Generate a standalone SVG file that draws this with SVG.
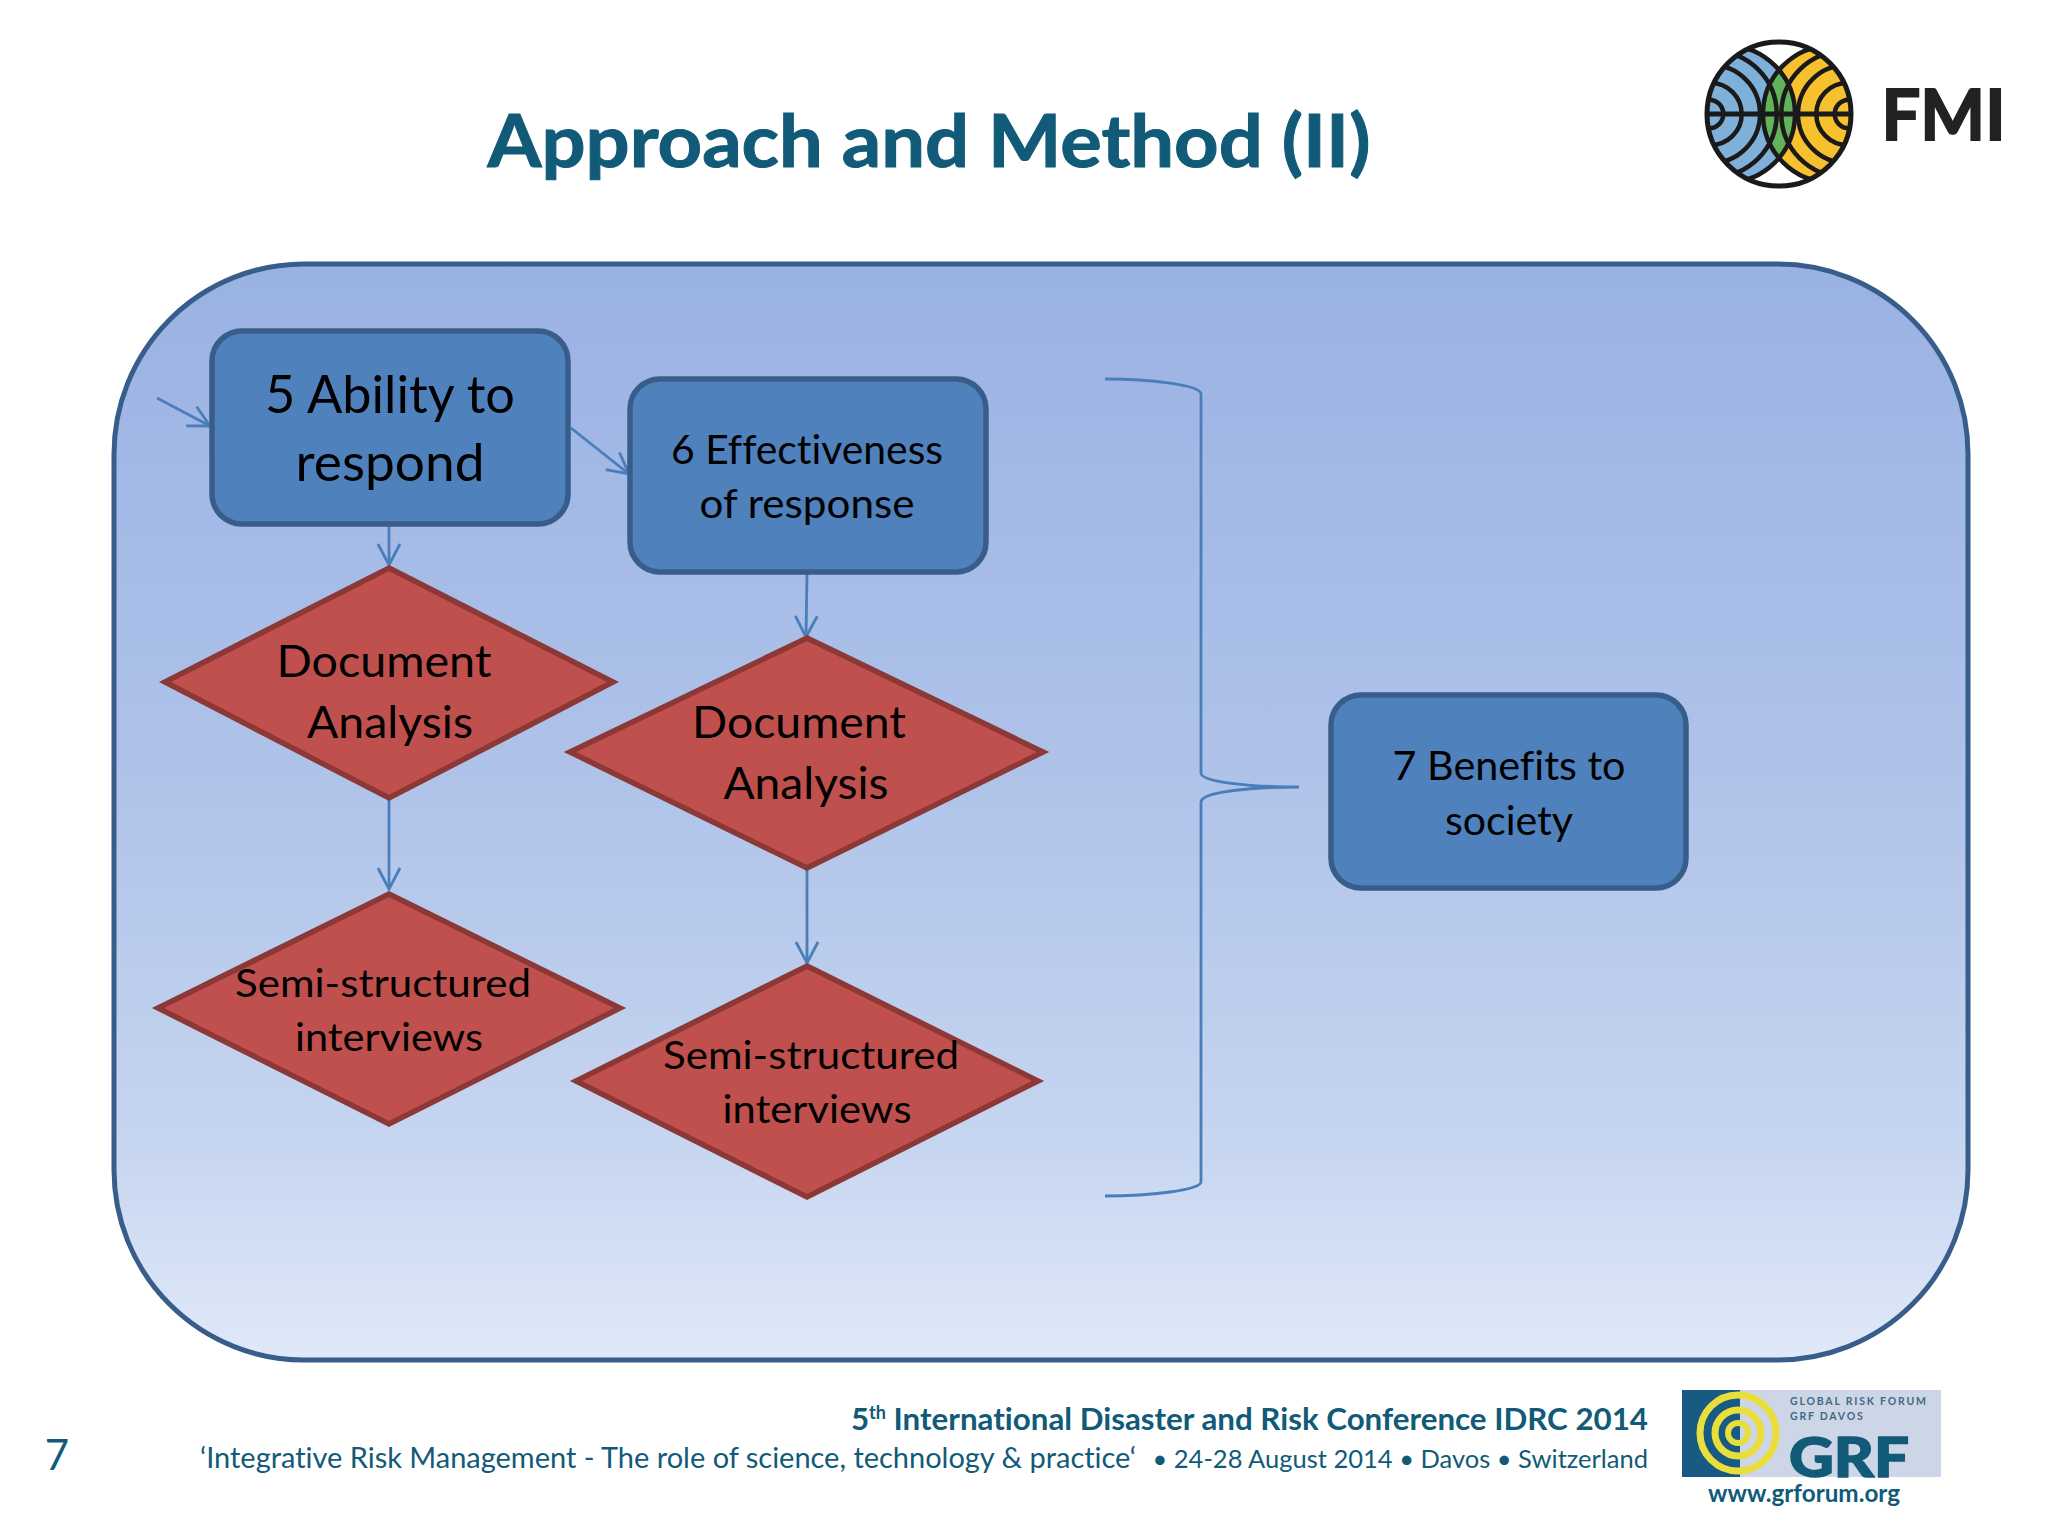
<svg xmlns="http://www.w3.org/2000/svg" width="2048" height="1536" viewBox="0 0 2048 1536">
<style>
text{font-family:"Lato","Liberation Sans",sans-serif;fill:#000;text-anchor:middle;font-variant-ligatures:none}
.box{fill:#4f81bd;stroke:#385d8a;stroke-width:5.5}
.dia{fill:#c0504d;stroke:#8c3836;stroke-width:5.5;stroke-linejoin:miter}
.con{fill:none;stroke:#4a7ebb;stroke-width:2.8}
.t1{font-size:52px}.t2{font-size:40px}.t3{font-size:44px}.t4{font-size:39px}
.teal{fill:#115a78}
.ring{fill:none;stroke:#1a1a1a;stroke-width:4.5}
.ftb{font-weight:700;font-size:31.300px}.ft{font-size:29px}.ft2{font-size:25.500px}
</style>
<defs>
<linearGradient id="bg" x1="0" y1="0" x2="0" y2="1"><stop offset="0" stop-color="#9ab2e3"/><stop offset="0.45" stop-color="#aec2e9"/><stop offset="0.8" stop-color="#c6d5f0"/><stop offset="1" stop-color="#e0e9f8"/></linearGradient>
<marker id="arr" viewBox="-24 -14 27 28" refX="0" refY="0" markerWidth="27" markerHeight="28" markerUnits="userSpaceOnUse" orient="auto"><path d="M-21,-11 L0,0 L-21,11" fill="none" stroke="#4a7ebb" stroke-width="2.8"/></marker>
<clipPath id="outer"><circle cx="1779" cy="114" r="73"/></clipPath>
<clipPath id="blueC"><circle cx="1726.700" cy="114" r="68.300"/></clipPath>
<clipPath id="grfC"><rect x="1682" y="1390" width="259" height="87"/></clipPath>
</defs>
<rect width="2048" height="1536" fill="#fff"/>
<text x="929" y="167" class="teal" font-size="72" font-weight="700" stroke="#115a78" stroke-width="1" textLength="883" lengthAdjust="spacingAndGlyphs">Approach and Method (II)</text>
<g id="fmi-logo">
<g clip-path="url(#outer)">
<circle cx="1779" cy="114" r="74" fill="#fff"/>
<circle cx="1726.700" cy="114" r="68.300" fill="#7fb0d9"/>
<circle cx="1831.300" cy="114" r="68.300" fill="#f7c02f"/>
<circle cx="1831.300" cy="114" r="68.300" fill="#62b35c" clip-path="url(#blueC)"/>
<circle class="ring" cx="1709" cy="114" r="14.300"/><circle class="ring" cx="1710.700" cy="114" r="31"/><circle class="ring" cx="1711" cy="114" r="49"/><circle class="ring" cx="1714" cy="114" r="62.700"/><circle class="ring" cx="1726.700" cy="114" r="68.300"/>
<circle class="ring" cx="1849" cy="114" r="14.300"/><circle class="ring" cx="1847.300" cy="114" r="31"/><circle class="ring" cx="1847" cy="114" r="49"/><circle class="ring" cx="1844" cy="114" r="62.700"/><circle class="ring" cx="1831.300" cy="114" r="68.300"/>
<path d="M1700,114H1860" stroke="#1a1a1a" stroke-width="5"/>
</g>
<circle cx="1779" cy="114" r="72" fill="none" stroke="#1a1a1a" stroke-width="5"/>
<text x="1943.500" y="140" font-size="71" font-weight="700" stroke="#222" stroke-width="2" style="fill:#222" textLength="124" lengthAdjust="spacingAndGlyphs">FMI</text>
</g>
<g id="panel"><rect x="114" y="264" width="1854" height="1096" rx="190" ry="190" fill="url(#bg)" stroke="#385d8a" stroke-width="5"/></g>
<g id="connectors">
<path class="con" marker-end="url(#arr)" d="M157,398L210,426"/>
<path class="con" marker-end="url(#arr)" d="M571,428L629,474"/>
<path class="con" marker-end="url(#arr)" d="M389,526V565"/>
<path class="con" marker-end="url(#arr)" d="M807,573L806,637"/>
<path class="con" marker-end="url(#arr)" d="M389,799V889"/>
<path class="con" marker-end="url(#arr)" d="M807,869V963"/>
<path class="con" d="M1105,379C1150,379 1201,385 1201,394V773C1201,782 1250,787 1299,787C1250,787 1201,792 1201,802V1182C1201,1190 1150,1196 1105,1196"/>
</g>
<g id="node5"><rect class="box" x="212" y="331" width="356" height="193" rx="30"/><text class="t1" x="390" y="413" textLength="250" lengthAdjust="spacingAndGlyphs">5 Ability to</text><text class="t1" x="390" y="481" textLength="189" lengthAdjust="spacingAndGlyphs">respond</text></g>
<g id="node6"><rect class="box" x="630" y="379" width="356" height="193" rx="30"/><text class="t2" x="807" y="464" textLength="272" lengthAdjust="spacingAndGlyphs">6 Effectiveness</text><text class="t2" x="807" y="518" textLength="215" lengthAdjust="spacingAndGlyphs">of response</text></g>
<g id="node7"><rect class="box" x="1331" y="695" width="355" height="193" rx="30"/><text class="t2" x="1509" y="780" textLength="233" lengthAdjust="spacingAndGlyphs">7 Benefits to</text><text class="t2" x="1509" y="835" textLength="128" lengthAdjust="spacingAndGlyphs">society</text></g>
<g id="doc1"><polygon class="dia" points="389,568 613,682 389,798 165,682"/><text class="t3" x="384" y="677" textLength="215" lengthAdjust="spacingAndGlyphs">Document</text><text class="t3" x="390" y="738" textLength="166" lengthAdjust="spacingAndGlyphs">Analysis</text></g>
<g id="doc2"><polygon class="dia" points="807,638 1043,752 807,868 570,752"/><text class="t3" x="799" y="738" textLength="214" lengthAdjust="spacingAndGlyphs">Document</text><text class="t3" x="806" y="799" textLength="165" lengthAdjust="spacingAndGlyphs">Analysis</text></g>
<g id="semi1"><polygon class="dia" points="389,894 620,1008 389,1124 158,1008"/><text class="t4" x="383" y="997" textLength="296" lengthAdjust="spacingAndGlyphs">Semi-structured</text><text class="t4" x="389" y="1051" textLength="188" lengthAdjust="spacingAndGlyphs">interviews</text></g>
<g id="semi2"><polygon class="dia" points="807,966 1038,1081 807,1197 576,1081"/><text class="t4" x="811" y="1069" textLength="296" lengthAdjust="spacingAndGlyphs">Semi-structured</text><text class="t4" x="817" y="1123" textLength="189" lengthAdjust="spacingAndGlyphs">interviews</text></g>
<g id="footer">
<text x="57" y="1470" class="teal" font-size="42">7</text>
<text x="1648" y="1430" class="teal ftb" style="text-anchor:end">5<tspan font-size="18" dy="-11">th</tspan><tspan dy="11"> International Disaster and Risk Conference IDRC 2014</tspan></text>
<text x="200" y="1468" class="teal ft" style="text-anchor:start" textLength="936" lengthAdjust="spacingAndGlyphs">‘Integrative Risk Management - The role of science, technology &amp; practice‘</text>
<text x="1648" y="1468" class="teal ft2" style="text-anchor:end">• 24-28 August 2014 • Davos • Switzerland</text>
<g id="grf-logo">
<rect x="1682" y="1390" width="259" height="87" fill="#ccd6e6"/>
<rect x="1682" y="1390" width="58" height="87" fill="#175a83"/>
<g clip-path="url(#grfC)" fill="none">
<circle cx="1738" cy="1433" r="38" stroke="#e9de3c" stroke-width="7"/><circle cx="1738" cy="1433" r="23" stroke="#e9de3c" stroke-width="7"/><circle cx="1738" cy="1433" r="10" stroke="#e9de3c" stroke-width="6"/>
</g>
<text x="1790" y="1405" style="text-anchor:start;fill:#3f6a85" font-size="10.500" font-weight="700" letter-spacing="1.800">GLOBAL RISK FORUM</text>
<text x="1790" y="1420" style="text-anchor:start;fill:#3f6a85" font-size="10.500" font-weight="700" letter-spacing="1.800">GRF DAVOS</text>
<text x="1849" y="1477" class="teal" font-size="56" font-weight="900" stroke="#115a78" stroke-width="1.500" textLength="120" lengthAdjust="spacingAndGlyphs">GRF</text>
</g>
<text x="1804" y="1502" class="teal" font-size="24" font-weight="700" textLength="192" lengthAdjust="spacingAndGlyphs">www.grforum.org</text>
</g>
</svg>
